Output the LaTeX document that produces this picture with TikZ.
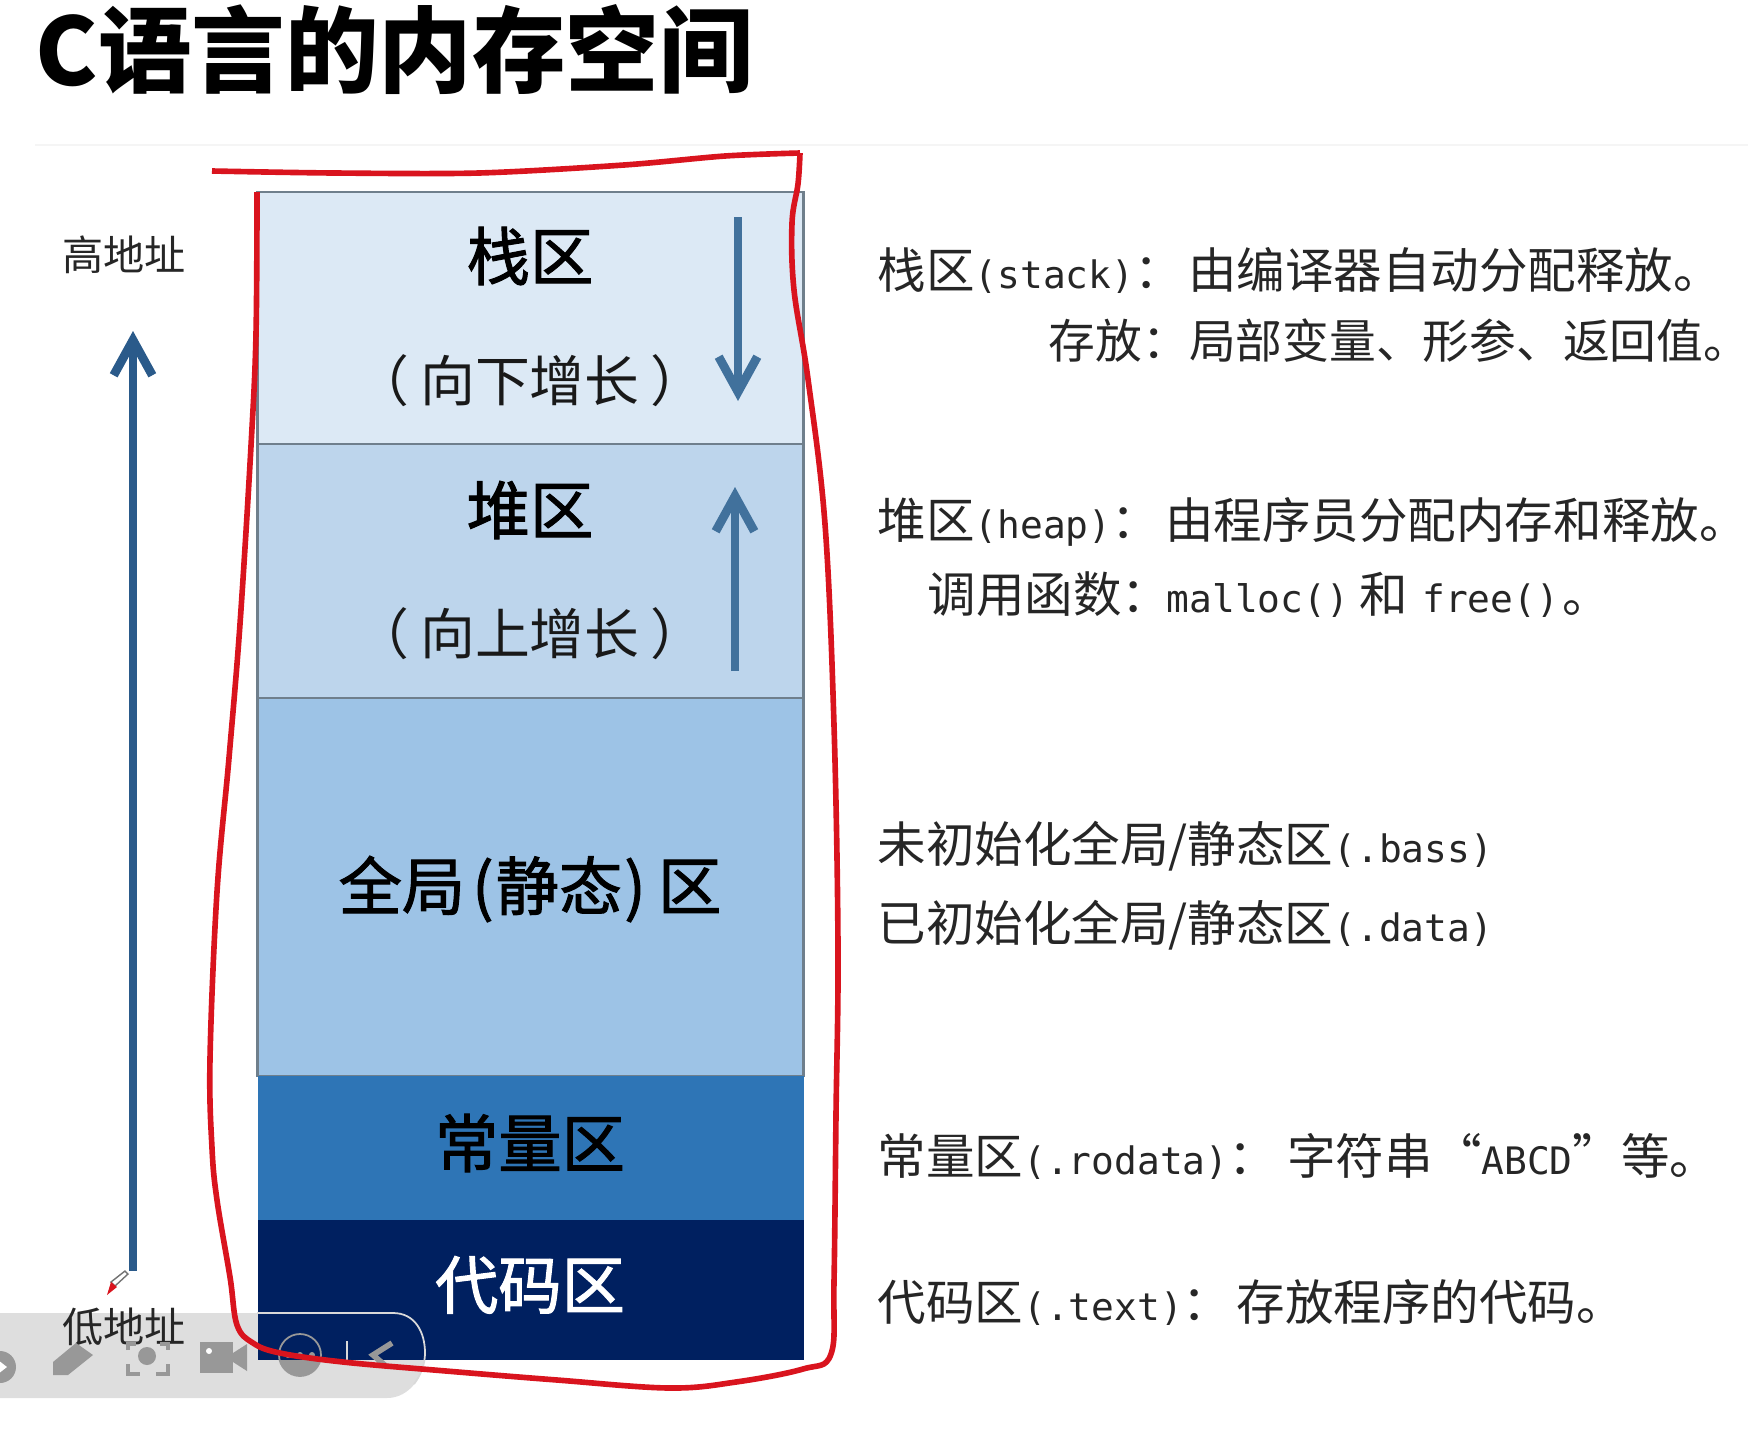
\documentclass[tikz,border=0pt]{standalone}
\usepackage{fontspec}
\usepackage{tikz}
\usetikzlibrary{arrows.meta}
\setmainfont{Noto Sans CJK SC}
\newfontfamily\latinmono{DejaVu Sans Mono}[Scale=0.78]
\newfontfamily\fatfont{Noto Sans CJK SC}[FakeBold=1.6]
\newcommand{\lat}[1]{{\latinmono #1}}
\definecolor{stackblue}{HTML}{DCE9F5}
\definecolor{heapblue}{HTML}{BDD5EC}
\definecolor{globalblue}{HTML}{9DC3E6}
\definecolor{constblue}{HTML}{2E75B6}
\definecolor{codeblue}{HTML}{002060}
\definecolor{edgegray}{HTML}{6F7F8C}
\definecolor{leftarrow}{HTML}{2A5A8A}
\definecolor{growblue}{HTML}{41719C}
\definecolor{penred}{HTML}{D9141E}
\definecolor{bargray}{HTML}{DEDEDE}
\definecolor{icongray}{HTML}{989898}
\tikzset{
    segbox/.style={draw=edgegray, line width=.7pt, minimum width=546*0.01cm, inner sep=0pt},
    bigtext/.style={font=\fontsize{18}{20}\fatfont, text=black},
    growtext/.style={font=\fontsize{15.6}{18}\selectfont, text=black!90},
    notetext/.style={font=\fontsize{13.8}{16}\selectfont, text=black!85, anchor=west, inner sep=0pt},
    addrtext/.style={font=\fontsize{11.7}{14}\selectfont, text=black!85, inner sep=0pt},
    growarrow/.style={line width=2.3pt, ->, >={Straight Barb[length=10pt,width=11pt,line width=2.5pt]}},
    penline/.style={penred, line width=1.6pt, line join=round},
    icon/.style={fill=icongray, draw=none},
}
\begin{document}
\begin{tikzpicture}[x=0.01cm, y=-0.01cm]
    \useasboundingbox (0,0) rectangle (1748,1436);
    \node[font=\fontsize{26.6}{30}\selectfont\bfseries, anchor=west, inner sep=0pt] (title) at (35,50) {C语言的内存空间};
    \draw[black!4, line width=.6pt] (35,145) -- (1748,145);

    % toolbar behind the boxes
    \path[fill=bargray] (0,1313) -- (393,1313) .. controls (415,1313) and (425,1332) .. (425,1353)
      .. controls (425,1375) and (410,1398) .. (387,1398) -- (0,1398) -- cycle;

    \node[segbox, fill=stackblue, minimum height=252*0.01cm] (stackbox) at (530.5,318) {};
    \node[segbox, fill=heapblue, minimum height=254*0.01cm] (heapbox) at (530.5,571) {};
    \node[segbox, fill=globalblue, minimum height=378*0.01cm] (globalbox) at (530.5,887) {};
    \node[segbox, fill=constblue, draw=none, minimum height=144*0.01cm] (constbox) at (530.5,1148) {};
    \node[segbox, fill=codeblue, draw=none, minimum height=140*0.01cm] (codebox) at (530.5,1290) {};

    \node[bigtext] (stackname) at (530,256) {栈区};
    \node[growtext] (stackgrow) at (530,381) {（\kern3pt 向下增长\kern3pt ）};
    \node[bigtext] (heapname) at (530,510) {堆区};
    \node[growtext] (heapgrow) at (530,634) {（\kern3pt 向上增长\kern3pt ）};
    \node[bigtext] (globalname) at (530,889) {全局\kern2pt (\kern.6pt 静态\kern.6pt )\kern3.5pt 区};
    \node[bigtext] (constname) at (530,1143) {常量区};
    \node[bigtext, text=white] (codename) at (530,1285) {代码区};

    \coordinate (stacktop) at (738,217);
    \coordinate (stackend) at (738,401);
    \coordinate (heaplow) at (735,671);
    \coordinate (heapend) at (735,487);
    \draw[growarrow, growblue] (stacktop) -- (stackend);
    \draw[growarrow, growblue] (heaplow) -- (heapend);

    \node[addrtext] (highaddr) at (124,255) {高地址};
    \node[addrtext] (lowaddr) at (124,1327) {低地址};
    \coordinate (addrlow) at (133,1271);
    \coordinate (addrhigh) at (133,331);
    \draw[growarrow, leftarrow] (addrlow) -- (addrhigh);

    \node[notetext] (stacknote) at (877,270) {栈区\lat{(stack)}：\kern1.5pt 由编译器自动分配释放。};
    \node[notetext, font=\fontsize{13.3}{16}\selectfont] (stackkeep) at (1048,341) {存放：局部变量、形参、返回值。};
    \node[notetext] (heapnote) at (877,522) {堆区\lat{(heap)}：\kern1.5pt 由程序员分配内存和释放。};
    \node[notetext] (heapcall) at (927,595) {调用函数：\kern-1pt\lat{malloc()}\kern3pt 和\kern4pt\lat{free()}\kern1pt。};
    \node[notetext] (bssnote) at (877,846) {未初始化全局/静态区\lat{(.bass)}};
    \node[notetext] (datanote) at (877,925) {已初始化全局/静态区\lat{(.data)}};
    \node[notetext] (constnote) at (877,1156) {常量区\lat{(.rodata)}：\kern3pt 字符串“\lat{ABCD}”等。};
    \node[notetext] (codenote) at (877,1302) {代码区\lat{(.text)}：\kern1.5pt 存放程序的代码。};

    % toolbar icons
    \fill[icon] (0,1367) circle (16);
    \fill[white] (-2,1360) -- (7,1367) -- (-2,1374) -- cycle;
    \fill[icon] (53,1375) -- (53,1362) -- (76,1343) -- (93,1355) -- (68,1375) -- cycle;
    \fill[icon] (147,1356) circle (9);
    \draw[icongray, line width=1.2pt] (128,1364) -- (128,1374) -- (140,1374) (156,1374) -- (168,1374) -- (168,1364)
      (128,1350) -- (128,1344) -- (136,1344) (160,1344) -- (168,1344) -- (168,1350);
    \fill[icon] (200,1342) rectangle (233,1373);
    \fill[icon] (233,1353) -- (247,1344) -- (247,1371) -- (233,1362) -- cycle;
    \fill[white] (209,1351) circle (3);
    \begin{scope}
        \clip (270,1360) rectangle (330,1380);
        \fill[icon] (300,1355) circle (21);
    \end{scope}
    \draw[icongray, line width=.5pt] (300,1355) circle (21);
    \foreach \dotx in {288,300,312}
        \fill[icongray] (\dotx,1355) circle (3);
    \draw[white!70!gray, line width=.5pt] (257,1313) -- (393,1313) .. controls (415,1313) and (425,1332) .. (425,1353)
      .. controls (425,1364) and (421,1375) .. (414,1384);
    \draw[white!70!gray, line width=.5pt] (347,1341) -- (347,1365);
    \draw[icongray, line width=1.6pt] (392,1343) -- (373,1355) -- (387,1367);

    % pen cursor
    \draw[black!55, fill=white, line width=.4pt] (128,1274) -- (115,1286) -- (111,1282) -- (125,1271) -- cycle;
    \fill[penred] (107,1295) -- (111,1282) -- (117,1287) -- cycle;

    % red mark round the stack of boxes
    \draw[penline] plot[smooth, tension=.5] coordinates {(212,171) (334,173) (479,173) (624,165) (725,156) (800,153)};
    \draw[penline] plot[smooth, tension=.6] coordinates {(800,153) (798,184) (792,223) (794,290) (808,379) (825,524)
      (834,725) (838,948) (836,1115) (834,1282) (831,1354) (803,1369) (736,1382) (669,1388) (557,1380) (446,1371)
      (343,1362) (280,1353) (253,1343) (237,1325) (230,1277) (217,1200) (212,1148) (210,1059) (217,892) (229,758)
      (240,624) (251,446) (256,334) (257,192)};
\end{tikzpicture}
\end{document}
